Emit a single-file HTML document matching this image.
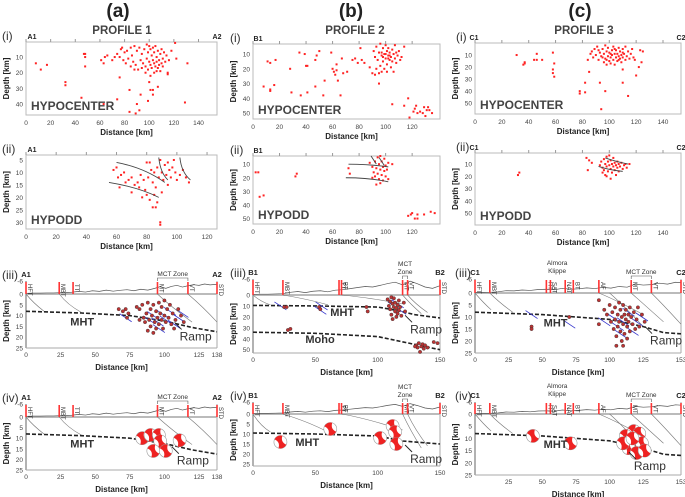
<!DOCTYPE html>
<html><head><meta charset="utf-8">
<style>
html,body{margin:0;padding:0;background:#fff;}
svg{display:block;font-family:"Liberation Sans",Arial,sans-serif;}
</style></head>
<body>
<svg id="fig" width="685" height="497" viewBox="0 0 685 497" xmlns="http://www.w3.org/2000/svg">
<text x="118" y="17" font-size="19" font-weight="bold" text-anchor="middle" fill="#222">(a)</text>
<text x="122" y="34" font-size="11.5" font-weight="bold" text-anchor="middle" fill="#444">PROFILE 1</text>
<text x="351" y="17" font-size="19" font-weight="bold" text-anchor="middle" fill="#222">(b)</text>
<text x="355" y="34" font-size="11.5" font-weight="bold" text-anchor="middle" fill="#444">PROFILE 2</text>
<text x="580" y="17" font-size="19" font-weight="bold" text-anchor="middle" fill="#222">(c)</text>
<text x="584" y="34" font-size="11.5" font-weight="bold" text-anchor="middle" fill="#444">PROFILE 3</text>
</svg>
<script>
// ---------- data ----------
const hypoA_out=[[8,14],[12,18],[17,15],[32,26],[32,28],[45,36],[47,8],[48,8],[48,10],[48,16],[61,12],[63,14],[64,10],[66,9],[63,40],[74,37],[76,23],[84,31],[84,45],[89,46],[90,40],[92,44],[93,34],[99,38],[101,31],[103,31],[103,34],[100,26],[101,22],[107,29],[115,21],[121,1],[122,11],[131,14],[129,39]];
const hypoA_clu=[[77,5],[78,4],[80,7],[82,6],[85,4],[86,9],[88,3],[90,6],[92,4],[94,8],[96,5],[98,2],[99,7],[100,3],[101,5],[102,9],[103,4],[104,7],[105,3],[106,10],[107,6],[108,12],[109,8],[110,5],[111,11],[112,7],[114,9],[116,12],[118,6],[76,10],[79,12],[81,14],[83,11],[85,16],[87,13],[89,15],[91,18],[93,12],[95,14],[97,16],[98,11],[99,18],[100,13],[101,15],[102,17],[103,12],[104,14],[105,16],[106,13],[107,17],[108,15],[109,19],[110,14],[111,16],[113,13],[97,20],[104,20],[72,10],[70,12],[74,8],[88,18],[94,17],[106,19],[115,20]];
const hypoddA=[[58,9],[60,8],[61,12],[63,11],[65,10],[66,14],[68,13],[70,12],[72,15],[74,14],[75,16],[76,11],[78,13],[79,17],[80,6],[81,12],[82,6],[83,9],[84,14],[85,10],[86,16],[87,8],[88,12],[89,5],[90,10],[91,13],[92,7],[93,11],[94,6],[95,9],[96,12],[97,8],[98,5],[99,10],[100,13],[102,11],[104,9],[106,12],[108,14],[85,19],[87,22],[82,21],[84,24],[86,24],[89,30],[89,31],[90,18],[80,19],[62,16],[70,18],[77,20],[94,15]];
const hypoB=[[8,32],[11,15],[13,16],[13,35],[13,34],[16,31],[17,14],[28,20],[29,36],[35,9],[36,38],[39,10],[40,18],[41,18],[41,36],[47,32],[47,14],[48,11],[50,8],[53,38],[54,28],[59,9],[60,20],[61,22],[62,24],[63,17],[63,21],[64,28],[66,38],[67,13],[68,23],[71,22],[75,14],[77,13],[79,16],[81,6],[82,14],[84,16],[88,19],[90,23],[105,44],[114,45],[117,40],[118,53],[121,49],[122,47],[123,45],[124,50],[126,49],[128,50],[129,46],[130,52],[131,48],[132,46],[133,48],[135,50],[125,2],[114,5],[95,30],
[91,8],[92,12],[93,5],[94,14],[95,9],[96,3],[96,18],[97,11],[98,6],[98,15],[99,10],[99,20],[100,4],[100,13],[101,8],[101,17],[102,11],[102,6],[103,14],[103,9],[104,12],[104,19],[105,7],[105,15],[106,10],[107,13],[107,4],[108,16],[108,9],[109,11],[110,8],[111,14],[112,12],[93,20],[95,23],[97,22],[101,22],[106,22],[92,24],[100,10],[98,12],[102,13],[97,9],[103,11]];
const hypoddB=[[2,16],[4,16],[5,34],[8,33],[32,19],[33,17],[72,13],[73,17],[117,48],[119,47],[120,46],[122,50],[124,50],[124,47],[129,47],[134,45],[137,46],
[88,9],[90,12],[91,16],[92,8],[92,19],[93,13],[94,5],[94,17],[95,10],[95,21],[96,14],[96,4],[97,18],[97,8],[98,12],[98,22],[99,15],[99,6],[100,19],[100,11],[101,14],[102,21],[102,9],[105,10],[93,25],[90,20],[96,24]];
const hypoC=[[31,10],[36,18],[37,17],[37,16],[44,14],[46,9],[46,14],[50,14],[58,8],[58,22],[58,25],[59,17],[59,28],[78,42],[78,40],[82,41],[82,33],[85,24],[84,14],[93,33],[94,55],[97,40],[110,33],[110,22],[114,44],[120,27],[122,20],[123,6],[124,16],[125,7],[119,14],
[86,9],[87,7],[88,12],[89,5],[90,10],[91,3],[92,14],[93,8],[94,11],[95,5],[96,16],[96,9],[97,2],[97,13],[98,7],[98,18],[99,11],[99,4],[100,15],[100,8],[101,12],[101,17],[102,6],[102,10],[103,14],[103,3],[104,9],[104,18],[105,12],[105,6],[106,15],[106,9],[107,4],[107,11],[108,13],[108,7],[109,10],[109,16],[110,5],[110,12],[111,9],[112,14],[112,3],[113,11],[114,7],[115,13],[116,9],[117,5],[118,12],[92,6],[95,12],[98,14],[101,9],[104,5],[107,14],[110,8]];
const hypoddC=[[32,19],[33,17],[83,5],[84,15],[85,7],[87,9],[93,11],[94,8],[95,13],[96,6],[96,15],[97,10],[98,4],[98,12],[99,16],[99,8],[100,11],[100,3],[101,14],[101,7],[102,10],[102,17],[103,12],[103,5],[104,9],[104,15],[105,11],[105,19],[106,8],[106,13],[107,10],[107,16],[108,12],[109,9],[110,14],[111,11],[112,10],[113,13],[115,10],[98,20],[101,22],[95,17],[97,19]];
const relA=[[67,7],[70,8],[72,7],[74,9],[73,11],[80,6],[82,7],[84,5],[85,11],[86,13],[87,9],[88,4],[89,12],[90,7],[90,15],[91,10],[92,5],[93,13],[94,8],[94,16],[95,11],[96,4],[96,14],[97,9],[98,6],[98,12],[99,16],[100,3],[100,10],[101,13],[102,7],[103,11],[104,5],[105,14],[106,9],[107,16],[108,12],[110,7],[112,10],[114,13],[88,17],[92,18],[82,12]];
const relB=[[25,11],[27,11],[28,32],[30,31],[53,11],[54,13],[91,11],[92,15],[108,4],[109,10],[110,6],[110,13],[111,2],[111,18],[112,8],[112,22],[113,11],[113,3],[114,15],[114,7],[115,12],[115,20],[116,9],[116,17],[117,5],[117,14],[118,11],[119,19],[121,7],[122,15],[131,46],[132,48],[133,44],[134,52],[135,47],[136,45],[137,49],[138,46],[140,48],[145,43],[148,44],[130,47]];
const relC=[[42,14],[42,15],[70,10],[92,3],[92,13],[96,7],[98,9],[100,5],[101,12],[102,8],[103,15],[104,6],[104,11],[105,18],[106,9],[106,14],[107,4],[107,12],[108,7],[108,16],[109,10],[109,20],[110,13],[110,5],[111,9],[111,17],[112,11],[112,7],[113,14],[113,19],[114,9],[114,12],[115,6],[115,16],[116,10],[117,13],[118,8],[119,15],[120,11],[121,6],[122,14],[124,9],[126,12],[105,22],[110,22]];
const mechA=[[72,11],[92,10],[95,13],[98,9],[101,12],[104,8],[107,14],[110,11],[113,9],[96,16],[89,12]];
const mechB=[[22,10],[55,10],[54,14],[113,10],[118,14],[116,8]];
const mechC=[[42,9],[70,13],[96,12],[102,10],[106,14],[110,12],[114,8],[117,16],[120,12],[124,10],[108,17]];
const ballsA=[[84,10],[90,8.5],[96,8.5],[97,11.5],[92,16],[101,16],[111,11]];
const ballsB=[[22,14],[62,7.5],[112,6],[114,9],[102,12],[115,15]];
const ballsC=[[43,9],[71,12],[118,7],[122,8],[112,9],[116,12],[120,11],[124,12],[114,14],[120,16],[110,12],[126,15],[117,10]];
const topoA_x=[0,5,10,15,20,24,28,33,38,43,48,53,58,63,68,73,78,83,88,93,97,101,105,109,113,117,121,125,129,133,138];
const topoA=[0.3,0.4,0.4,0.5,0.5,0.6,0.7,0.8,1.2,0.9,1.5,1.2,1.8,1.3,1.7,2.0,1.5,2.2,1.8,2.6,3.4,2.6,3.5,4.0,3.2,3.8,4.3,4.0,4.6,4.2,4.5];
const topoB_x=[0,6,12,18,24,30,36,42,48,54,60,66,72,78,84,90,96,102,108,114,120,126,132,138,144,150];
const topoB=[0.2,0.3,0.3,0.4,0.5,1.0,1.3,0.9,1.4,1.6,1.2,1.8,2.0,2.4,2.8,3.2,3.0,3.6,4.3,4.8,3.8,5.2,4.2,3.0,2.5,3.5];
const topoC_x=[0,6,11,17,23,29,35,41,47,53,59,65,71,77,83,89,95,101,107,113,119,125,131,137,143,149,153];
const topoC=[0.2,0.2,0.3,0.5,1.0,0.9,1.3,1.1,1.5,1.6,1.4,2.0,1.6,1.8,2.2,1.9,2.4,2.1,2.8,2.5,3.8,3.4,3.6,4.2,3.8,4.6,4.4];
const mhtA=[[0,8],[40,8.8],[75,10],[100,12.5],[120,15.5],[138,17.5]];
const mhtB3=[[0,9.5],[50,10],[100,11],[115,14],[130,18],[150,21]];
const mhtB4=[[0,9.5],[50,10],[100,11],[120,13.5],[150,15]];
const mhtC=[[0,8],[50,9],[100,11],[125,14],[140,16.5],[153,17]];
const mohoB=[[0,34],[50,35],[100,38],[125,44],[150,50]];
const faultsA=[["HFT",0],["MBT",24],["TT",34],["MT",95],["VT",117],["STD",138]];
const faultsB=[["HFT",0],["MBT",24],["TT",69],["BT",71],["MT",120],["VT",124],["STD",150]];
const faultsC=[["HFT",0],["MBT",11],["RT",53],["SAT",56],["NAT",67],["BT",73],["AF",92],["MT",116],["VT",131],["STD",153]];
const ticksA3=[0,25,50,75,100,125,138];
const ticksB3=[0,50,100,150];
const ticksC3=[0,25,50,75,100,125,153];
const ticksC4=[25,50,75,100,125,153];

// ---------- drawing ----------
const NS="http://www.w3.org/2000/svg";
const svg=document.getElementById('fig');
function el(tag,attrs,name,parent){
  const e=document.createElementNS(NS,tag);
  for(const k in attrs) e.setAttribute(k,attrs[k]);
  
  
  (parent||svg).appendChild(e);
  return e;
}
function txt(x,y,s,size,name,extra){
  const a=Object.assign({x:x,y:y,'font-size':size,fill:'#222'},extra||{});
  const t=el('text',a,name);
  t.textContent=s;
  return t;
}
function scat(o){
  const sx=v=>o.x0+(v-o.xmin)/(o.xmax-o.xmin)*(o.x1-o.x0);
  const sy=v=>o.y0+(v-o.dmin)/(o.dmax-o.dmin)*(o.y1-o.y0);
  el('rect',{x:o.x0,y:o.y0,width:o.x1-o.x0,height:o.y1-o.y0,fill:'none',stroke:'#bbb','stroke-width':1},'plot-frame');
  o.xt.forEach(v=>{
    el('line',{x1:sx(v),x2:sx(v),y1:o.y0,y2:o.y0-3,stroke:'#999'},'x-tick');
    txt(sx(v),o.y1+10,String(v),6.5,'x-tick-label',{'text-anchor':'middle',fill:'#444'});
  });
  o.dt.forEach(v=>{
    txt(o.x0-3,sy(v)+2.5,String(v),6.5,'y-tick-label',{'text-anchor':'end',fill:'#444'});
  });
  txt((o.x0+o.x1)/2+5,o.y1+20,'Distance [km]',8,'x-axis-title',{'text-anchor':'middle','font-weight':'bold'});
  const yc=(o.y0+o.y1)/2, xl=o.x0-17;
  txt(xl,yc,'Depth [km]',8,'y-axis-title',{'text-anchor':'middle','font-weight':'bold',transform:'rotate(-90 '+xl+' '+yc+')'});
  o.pts.forEach(p=>{
    if(p[1]<o.dmin-1||p[1]>o.dmax+1) return;
    el('rect',{x:sx(p[0])-1,y:sy(p[1])-1,width:2,height:2,fill:'#f22'},'event-dot');
  });
  (o.curves||[]).forEach(c=>{
    el('path',{d:'M'+sx(c[0])+' '+sy(c[1])+' Q'+sx(c[2])+' '+sy(c[3])+' '+sx(c[4])+' '+sy(c[5]),fill:'none',stroke:'#444','stroke-width':0.9},'structure-line');
  });
  txt(o.x0+5,o.y1-5,o.label,12,'method-label',{'font-weight':'bold',fill:'#444'});
  txt(o.lx,o.y0-3,o.l1,7,'profile-start-label',{'font-weight':'bold','text-anchor':'middle'});
  if(o.l2) txt(o.x1,o.y0-3,o.l2,7,'profile-end-label',{'font-weight':'bold','text-anchor':'middle'});
  txt(o.rx,o.y0-2,o.roman,12,'panel-number',{fill:'#333'});
}
function sect(o){
  const sx=v=>o.x0+v/o.xmax*(o.x1-o.x0);
  const sy=v=>o.yZ+v/o.dmax*(o.yB-o.yZ);
  const st=v=>o.yZ-v/6*(o.yZ-o.yT);
  el('line',{x1:o.x0,x2:o.x0,y1:o.yT,y2:o.yB,stroke:'#666'},'y-axis-line');
  el('line',{x1:o.x1,x2:o.x1,y1:o.yT,y2:o.yB,stroke:'#aaa'},'right-axis-line');
  el('line',{x1:o.x0,x2:o.x1,y1:o.yB,y2:o.yB,stroke:'#aaa'},'x-axis-line');
  el('line',{x1:o.x0,x2:o.x1,y1:o.yZ,y2:o.yZ,stroke:'#bbb','stroke-width':2},'sea-level-line');
  txt(o.x0-3,o.yT+2.5,'-6',6.5,'y-tick-label',{'text-anchor':'end',fill:'#444'});
  o.dt.forEach(v=>{ txt(o.x0-3,sy(v)+2.5,String(v),6.5,'y-tick-label',{'text-anchor':'end',fill:'#444'}); });
  o.xt.forEach(v=>{ txt(sx(v),o.yB+9,String(v),6.5,'x-tick-label',{'text-anchor':'middle',fill:'#444'}); });
  txt((o.x0+o.x1)/2,o.yB+22,'Distance [km]',8,'x-axis-title',{'text-anchor':'middle','font-weight':'bold'});
  const yc=(o.yZ+o.yB)/2, xl=o.x0-17;
  txt(xl,yc,'Depth [km]',8,'y-axis-title',{'text-anchor':'middle','font-weight':'bold',transform:'rotate(-90 '+xl+' '+yc+')'});
  let d=''; o.tx.forEach((x,i)=>{ d+=(i?' L':'M')+sx(x)+' '+st(o.ty[i]); });
  el('path',{d:d,fill:'none',stroke:'#555','stroke-width':0.7},'topography-line');
  o.faults.forEach(f=>{
    const x=sx(f[1]);
    el('line',{x1:x,x2:x,y1:o.yT+1,y2:o.yZ,stroke:'#f33','stroke-width':1.6},'fault-marker');
    txt(x+2,o.yT+3,f[0],6,'fault-label',{transform:'rotate(90 '+(x+2)+' '+(o.yT+3)+')',fill:'#333'});
  });
  o.traces.forEach(t=>{
    el('path',{d:'M'+sx(t[0])+' '+o.yZ+' Q'+sx(t[1])+' '+sy(t[2])+' '+sx(t[3])+' '+sy(t[4]),fill:'none',stroke:'#777','stroke-width':0.6},'fault-trace');
  });
  let m=''; o.mht.forEach((p,i)=>{ m+=(i?' L':'M')+sx(p[0])+' '+sy(p[1]); });
  el('path',{d:m,fill:'none',stroke:'#222','stroke-width':1.6,'stroke-dasharray':'4 2'},'mht-line');
  if(o.moho){ let mm=''; o.moho.forEach((p,i)=>{ mm+=(i?' L':'M')+sx(p[0])+' '+sy(p[1]); });
    el('path',{d:mm,fill:'none',stroke:'#222','stroke-width':1.6,'stroke-dasharray':'4 2'},'moho-line');
    txt(sx(42),sy(44),'Moho',11,'moho-label',{'font-weight':'bold',fill:'#333'}); }
  (o.mech||[]).forEach(p=>{
    el('line',{x1:sx(p[0])-6,y1:sy(p[1])-4,x2:sx(p[0])+6,y2:sy(p[1])+4,stroke:'#33c','stroke-width':0.8},'mechanism-plane');
  });
  (o.rel||[]).forEach(p=>{
    el('circle',{cx:sx(p[0]),cy:sy(p[1]),r:1.7,fill:'#b33',stroke:'#333','stroke-width':0.4},'relocated-event');
  });
  (o.balls||[]).forEach(p=>{
    const cx=sx(p[0]),cy=sy(p[1]),r=6.5;
    el('circle',{cx:cx,cy:cy,r:r,fill:'#fff',stroke:'#999','stroke-width':0.6},'beachball');
    el('path',{d:'M'+(cx-r*0.9)+' '+(cy-r*0.4)+' A'+r+' '+r+' 0 0 1 '+(cx+r*0.3)+' '+(cy-r*0.95)+' Q'+cx+' '+cy+' '+(cx+r*0.9)+' '+(cy+r*0.4)+' A'+r+' '+r+' 0 0 1 '+(cx-r*0.3)+' '+(cy+r*0.95)+' Q'+cx+' '+cy+' '+(cx-r*0.9)+' '+(cy-r*0.4)+'Z',fill:'#e22'},'beachball-compression');
  });
  txt(sx(o.mhtL[0]),sy(o.mhtL[1]),'MHT',11,'mht-label',{'font-weight':'bold',fill:'#333'});
  txt(sx(o.rampL[0]),sy(o.rampL[1]),'Ramp',12,'ramp-label',{fill:'#333'});
  el('line',{x1:sx(o.rampL[0])+2,y1:sy(o.rampL[1])-11,x2:sx(o.rampL[0])-5,y2:sy(o.rampL[1])-18,stroke:'#222','stroke-width':0.9},'ramp-arrow');
  const a=sx(o.mct[0]),b=sx(o.mct[1]),by=o.yT-3;
  el('path',{d:'M'+a+' '+(by+3)+' V'+by+' H'+b+' V'+(by+3),fill:'none',stroke:'#555','stroke-width':0.6},'mct-zone-bracket');
  if(o.mctTwo){ txt((a+b)/2,by-10,'MCT',6.5,'mct-zone-label',{'text-anchor':'middle',fill:'#333'}); txt((a+b)/2,by-2,'Zone',6.5,'mct-zone-label',{'text-anchor':'middle',fill:'#333'}); }
  else txt((a+b)/2,by-2,'MCT Zone',6.5,'mct-zone-label',{'text-anchor':'middle',fill:'#333'});
  if(o.klippe){ const c=sx(o.klippe); txt(c,by-11,'Almora',6.5,'almora-klippe-label',{'text-anchor':'middle',fill:'#333'}); txt(c,by-3,'Klippe',6.5,'almora-klippe-label',{'text-anchor':'middle',fill:'#333'}); }
  txt(o.x0,o.yT-4,o.l1,7.5,'profile-start-label',{'font-weight':'bold','text-anchor':'middle'});
  txt(o.x1,o.yT-4,o.l2,7.5,'profile-end-label',{'font-weight':'bold','text-anchor':'middle'});
  txt(o.rx,o.yT-2,o.roman,12,'panel-number',{fill:'#333'});
}
scat({x0:26,x1:217,xmin:0,xmax:155,y0:42,y1:115,dmin:0.4,dmax:47,xt:[0,20,40,60,80,100,120,140],dt:[10,20,30,40],pts:hypoA_out.concat(hypoA_clu),label:'HYPOCENTER',l1:'A1',l2:'A2',lx:32,rx:2,roman:'(i)'});
scat({x0:26,x1:217,xmin:0,xmax:126.6,y0:155,y1:229,dmin:3,dmax:32.7,xt:[0,20,40,60,80,100,120],dt:[5,10,15,20,25,30],pts:hypoddA,label:'HYPODD',l1:'A1',lx:32,rx:2,roman:'(ii)',
 curves:[[60,6,78,8,92,14],[55,14,75,16,88,20],[88,4,89,10,94,13],[102,4,103,10,109,13]]});
scat({x0:253,x1:440,xmin:0,xmax:141,y0:44,y1:119,dmin:3.2,dmax:54,xt:[0,20,40,60,80,100,120],dt:[10,20,30,40,50],pts:hypoB,label:'HYPOCENTER',l1:'B1',lx:258,rx:230,roman:'(i)'});
scat({x0:253,x1:440,xmin:0,xmax:141,y0:156,y1:224,dmin:4,dmax:54,xt:[0,20,40,60,80,100,120],dt:[10,20,30,40,50],pts:hypoddB,label:'HYPODD',l1:'B1',lx:258,rx:230,roman:'(ii)',
 curves:[[72,10,88,10,102,12],[70,20,88,20,102,23],[89,4,91,7,93,10],[95,5,97,8,99,11]]});
scat({x0:475,x1:681,xmin:0,xmax:153.4,y0:43,y1:114,dmin:0,dmax:59,xt:[0,20,40,60,80,100,120,140],dt:[10,20,30,40,50],pts:hypoC,label:'HYPOCENTER',l1:'C1',l2:'C2',lx:474,rx:456,roman:'(i)'});
scat({x0:475,x1:681,xmin:0,xmax:153.4,y0:153,y1:225,dmin:1,dmax:59.8,xt:[0,20,40,60,80,100,120,140],dt:[10,20,30,40,50],pts:hypoddC,label:'HYPODD',l1:'C1',l2:'C2',lx:474,rx:456,roman:'(ii)',
 curves:[[97,5,105,8,114,10],[92,12,100,15,110,16]]});
const trA=[[0,5,4,13,8],[24,30,5,40,8.5],[95,105,6,120,13],[117,128,6,138,13]];
const trB=[[0,6,6,14,9],[24,45,4,60,9],[71,90,2,120,8],[120,126,8,135,17],[124,130,8,140,16]];
const trC=[[0,6,4,12,7],[11,18,4,28,8],[92,105,3,125,9],[100,110,5,125,14],[116,128,6,140,12],[131,140,5,153,13]];
sect({x0:26,x1:217,xmax:138,yT:281,yZ:294,yB:348,dmax:25,dt:[0,5,10,15,20,25],xt:ticksA3,tx:topoA_x,ty:topoA,faults:faultsA,traces:trA,mht:mhtA,rel:relA,mech:mechA,mhtL:[32,14.5],rampL:[111,21.5],mct:[95,117],l1:'A1',l2:'A2',rx:2,roman:'(iii)'});
sect({x0:26,x1:217,xmax:138,yT:404,yZ:417,yB:470,dmax:25,dt:[0,5,10,15,20,25],xt:ticksA3,tx:topoA_x,ty:topoA,faults:faultsA,traces:trA,mht:mhtA,balls:ballsA,mhtL:[32,14.5],rampL:[109,22.5],mct:[95,117],l1:'A1',l2:'A2',rx:2,roman:'(iv)'});
sect({x0:253,x1:440,xmax:150,yT:279,yZ:295,yB:353,dmax:53,dt:[0,10,20,30,40,50],xt:ticksB3,tx:topoB_x,ty:topoB,faults:faultsB,traces:trB,mht:mhtB3,moho:mohoB,rel:relB,mech:mechB,mhtL:[62,19],rampL:[126,35],mct:[120,124],mctTwo:true,l1:'B1',l2:'B2',rx:230,roman:'(iii)'});
sect({x0:253,x1:440,xmax:150,yT:402,yZ:414,yB:466,dmax:26,dt:[0,5,10,15,20,25],xt:ticksB3,tx:topoB_x,ty:topoB,faults:faultsB,traces:trB,mht:mhtB4,balls:ballsB,mhtL:[34,16],rampL:[126,24.5],mct:[120,124],mctTwo:true,l1:'B1',l2:'B2',rx:230,roman:'(iv)'});
sect({x0:475,x1:681,xmax:153,yT:279,yZ:293,yB:353,dmax:25,dt:[0,5,10,15,20,25],xt:ticksC3,tx:topoC_x,ty:topoC,faults:faultsC,traces:trC,mht:mhtC,rel:relC,mech:mechC,mhtL:[51,14],rampL:[130,21.5],mct:[116,131],klippe:61,l1:'C1',l2:'C2',rx:455,roman:'(iii)'});
sect({x0:475,x1:681,xmax:153,yT:402,yZ:414,yB:475,dmax:25,dt:[0,5,10,15,20,25],xt:ticksC4,tx:topoC_x,ty:topoC,faults:faultsC,traces:trC,mht:mhtC,balls:ballsC,mhtL:[51,14],rampL:[118,23],mct:[116,131],klippe:61,l1:'C1',l2:'C2',rx:455,roman:'(iv)'});
</script>
</body></html>
